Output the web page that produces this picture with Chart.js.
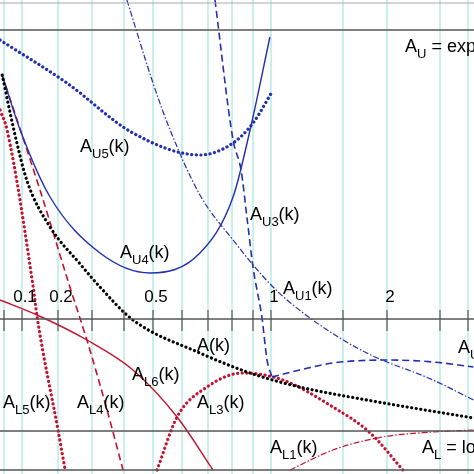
<!DOCTYPE html><html><head><meta charset="utf-8">
<script src="https://cdn.jsdelivr.net/npm/chart.js@4"></script>
<style>html,body{margin:0;padding:0;background:#fff}#w{width:474px;height:474px}</style></head><body>
<div id="w"><canvas id="c"></canvas></div>
<script>
// axis definition: k values and their positions along the (nonlinear) k axis
const tickK = [-0.022,0,0.1,0.2,0.3,0.4,0.5,0.6,0.7,0.8,0.9,1,1.5,2,3,4,4.2];
const tickU = [0,4,22,58,92,124,153,182,208,232,253,271,343,387,440,468,474];
const gridK = [0,0.1,0.2,0.3,0.4,0.5,0.6,0.7,0.8,0.9,1,1.5,2,3,4];
const labelK = [0.1,0.2,0.5,1,2];
const labelText = ["0.1","0.2","0.5","1","2"];
const hLines = [3.16,2.89,0,-1.12,-1.51];

const A   = [[-0.01,2.44],[0.06,1.85],[0.114,1.38],[0.178,0.92],[0.265,0.55],[0.325,0.32],[0.431,-0.01],[0.669,-0.34],[0.886,-0.54],[1.2,-0.68],[1.77,-0.81],[4.18,-0.99]];
const AU1 = [[0.41,3.19],[0.5,2.36],[0.559,1.89],[0.669,1.24],[0.805,0.79],[1.014,0.32],[1.29,-0.01],[1.77,-0.34],[2.87,-0.61],[4.18,-0.81]];
const AU3 = [[0.729,3.19],[0.805,1.79],[0.843,1.49],[0.871,1.02],[0.9,0.52],[0.95,0.01],[0.978,-0.41],[1.007,-0.58]];
const AU2 = [[1.007,-0.58],[1.2,-0.51],[1.43,-0.44],[2.0,-0.41],[2.87,-0.43],[4.18,-0.48]];
const AU4 = [[-0.01,2.44],[0.09,1.89],[0.178,1.22],[0.325,0.66],[0.49,0.46],[0.669,0.66],[0.805,1.22],[0.886,1.89],[0.994,2.82]];
const AU5 = [[-0.022,2.79],[0.226,2.36],[0.431,1.86],[0.669,1.64],[0.805,1.76],[0.9,1.96],[1.007,2.27]];
const AL6 = [[-0.022,0.19],[0.142,0.04],[0.285,-0.21],[0.431,-0.51],[0.583,-0.98],[0.721,-1.51]];
const AL5 = [[-0.022,2.09],[0.017,1.89],[0.131,0.32],[0.142,0.02],[0.2,-1.11],[0.221,-1.51]];
const AL4 = [[-0.01,2.44],[0.15,1.29],[0.235,0.32],[0.285,-0.21],[0.347,-0.91],[0.397,-1.51]];
const AL3 = [[0.514,-1.51],[0.583,-0.98],[0.696,-0.68],[0.852,-0.54],[1.083,-0.61],[1.43,-0.88],[1.81,-1.14],[2.3,-1.51]];
const AL1 = [[1.132,-1.51],[1.43,-1.31],[1.95,-1.18],[2.87,-1.13],[4.18,-1.11]];

function u(k){for(let i=0;i<tickK.length-1;i++){if(k<=tickK[i+1]||i===tickK.length-2){const t=(k-tickK[i])/(tickK[i+1]-tickK[i]);return tickU[i]+t*(tickU[i+1]-tickU[i]);}}}
const pts = a => a.map(p=>({x:u(p[0]),y:p[1]}));
const BLUE='#1f2fb0', RED='#c4122f';
function ds(a,color,style){
  const o={data:pts(a),borderColor:color,pointRadius:0,cubicInterpolationMode:'monotone',fill:false,borderWidth:1.4};
  if(style==='dot'){o.borderDash=[0.1,4.5];o.borderWidth=3.2;o.borderCapStyle='round';}
  if(style==='dash'){o.borderDash=[7,4];o.borderWidth=1.6;}
  if(style==='dashdot'){o.borderDash=[6,2,1.5,2];o.borderWidth=1.2;}
  return o;
}
const hl = hLines.map((y,i)=>({data:[{x:0,y},{x:474,y}],borderColor:i===0?'#aaa':'#555',borderWidth:i===0?1:1.6,pointRadius:0}));
const datasets=[...hl,
  ds(A,'#000','dot'),ds(AU1,BLUE,'dashdot'),ds(AU3,BLUE,'dash'),ds(AU2,BLUE,'dash'),ds(AU4,BLUE,'solid'),ds(AU5,BLUE,'dot'),
  ds(AL6,RED,'solid'),ds(AL5,RED,'dot'),ds(AL4,RED,'dash'),ds(AL3,RED,'dot'),ds(AL1,RED,'dashdot')];

const labels=[ // [main, sub, tail, px, py(baseline)]
 ['A','U5','(k)',80,152],['A','U4','(k)',120,258],['A','U3','(k)',250,220],['A','U1','(k)',283,294],
 ['A','','(k)',197,351],['A','L6','(k)',132,380],['A','L5','(k)',3,408],['A','L4','(k)',77,408],
 ['A','L3','(k)',197,408],['A','L1','(k)',270,453],['A','U2','(k)',458,353],
 ['A','U',' = exp',405,52],['A','L',' = lo',422,453]];

const plug={id:'deco',
 beforeDatasetsDraw(ch){const c=ch.ctx,x=ch.scales.x;c.save();
  c.strokeStyle='#b8ebe4';c.lineWidth=1.5;
  gridK.forEach(k=>{const px=x.getPixelForValue(u(k));c.beginPath();c.moveTo(px,0);c.lineTo(px,474);c.stroke();});
  c.restore();},
 afterDatasetsDraw(ch){const c=ch.ctx,x=ch.scales.x,y=ch.scales.y;c.save();
  const y0=y.getPixelForValue(0);c.strokeStyle='#555';c.lineWidth=1.2;
  gridK.forEach(k=>{const px=x.getPixelForValue(u(k));c.beginPath();c.moveTo(px,y0-9);c.lineTo(px,y0+12);c.stroke();});
  c.fillStyle='#000';c.font='17px "Liberation Sans", Arial';c.textAlign='center';c.textBaseline='alphabetic';
  labelK.forEach((k,i)=>c.fillText(labelText[i],x.getPixelForValue(u(k))+3,302));
  c.textAlign='left';
  labels.forEach(l=>{let px=l[3];c.font='18px "Liberation Sans", Arial';c.fillText(l[0],px,l[4]);px+=c.measureText(l[0]).width;
   if(l[1]){c.font='13px "Liberation Sans", Arial';c.fillText(l[1],px,l[4]+6);px+=c.measureText(l[1]).width;}
   c.font='18px "Liberation Sans", Arial';c.fillText(l[2],px,l[4]);});
  c.restore();}};

new Chart(document.getElementById('c'),{type:'line',data:{datasets},plugins:[plug],
 options:{responsive:true,maintainAspectRatio:false,animation:false,layout:{padding:0},
  plugins:{legend:{display:false},tooltip:{enabled:false}},
  scales:{x:{type:'linear',min:0,max:474,display:false},y:{type:'linear',min:-1.55,max:3.19,display:false}}}});
</script></body></html>
